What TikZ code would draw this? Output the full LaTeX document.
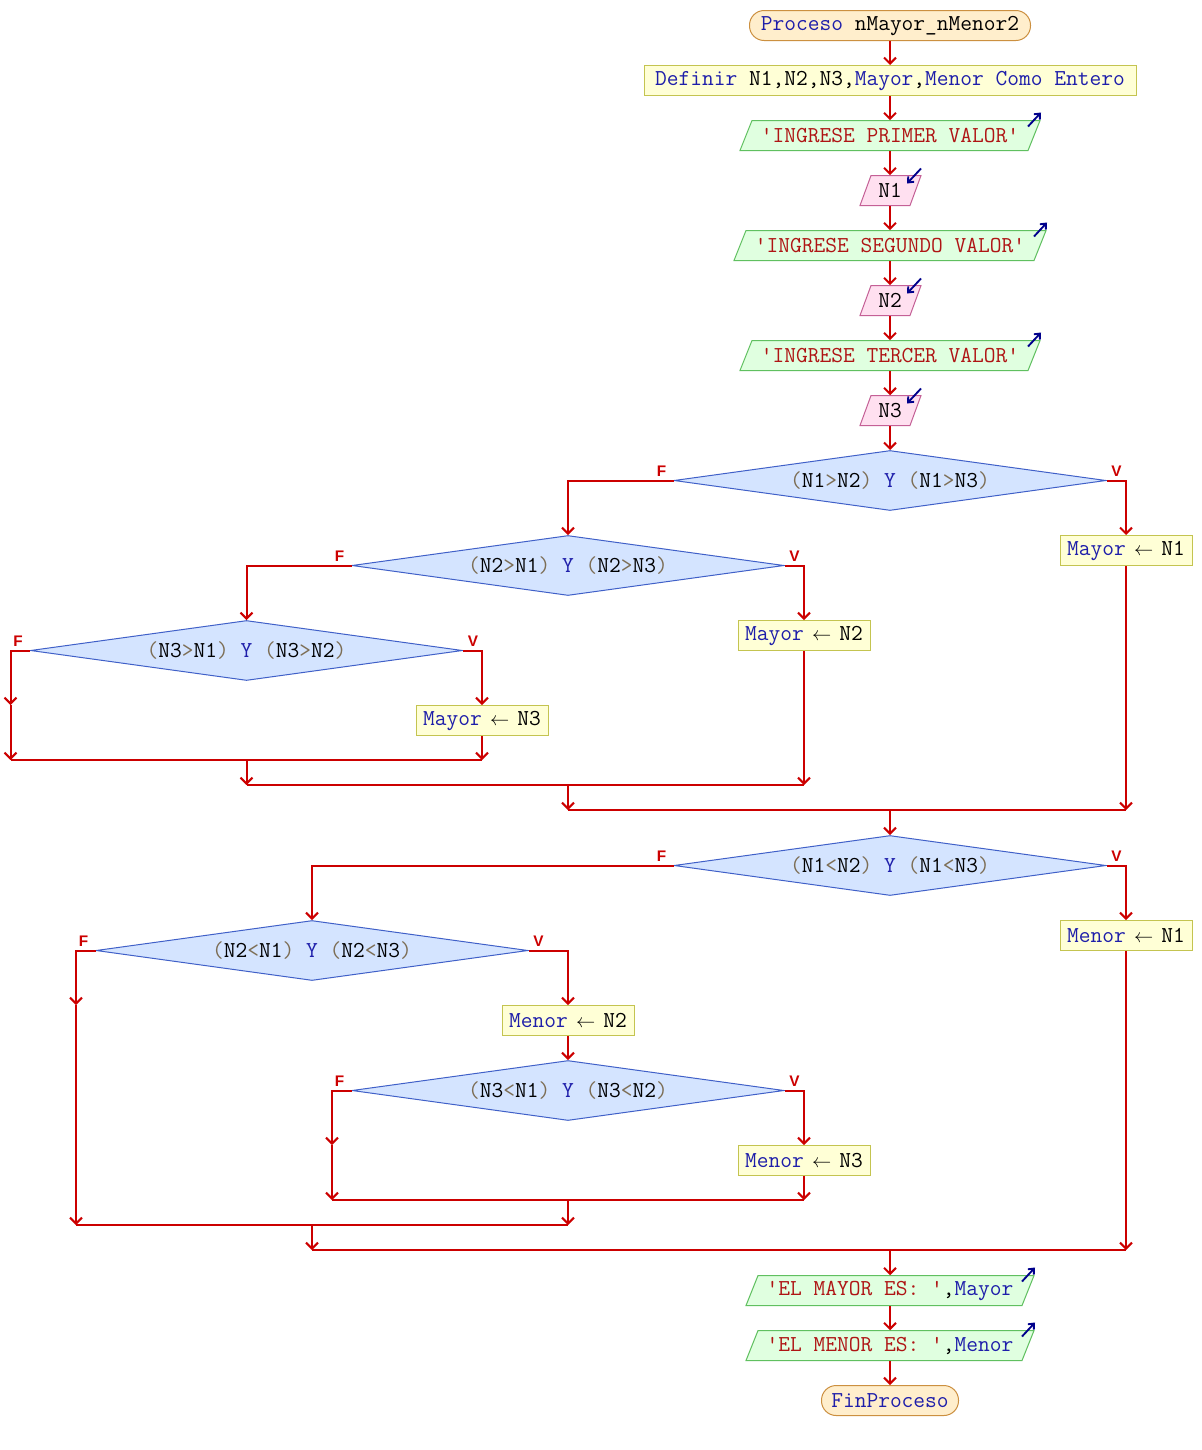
\documentclass[tikz,border=0pt]{standalone}
\usepackage{fontspec}
\setmonofont{Latin Modern Mono}
\newfontfamily\lblfont{Liberation Sans}
\usetikzlibrary{arrows.meta,shapes.geometric}
\definecolor{flowred}{RGB}{204,0,0}
\definecolor{kwc}{RGB}{30,30,170}
\definecolor{strc}{RGB}{175,20,20}
\definecolor{opc}{RGB}{125,110,85}
\definecolor{startfill}{RGB}{255,238,204}
\definecolor{startdraw}{RGB}{204,144,64}
\definecolor{procfill}{RGB}{255,255,214}
\definecolor{procdraw}{RGB}{196,196,80}
\definecolor{outfill}{RGB}{224,255,224}
\definecolor{outdraw}{RGB}{96,192,96}
\definecolor{infill}{RGB}{255,224,240}
\definecolor{indraw}{RGB}{196,96,150}
\definecolor{decfill}{RGB}{212,228,255}
\definecolor{decdraw}{RGB}{64,96,200}
\definecolor{ioarrow}{RGB}{0,0,140}
\newcommand\cK[1]{\textcolor{kwc}{#1}}
\newcommand\cS[1]{\textcolor{strc}{#1}}
\newcommand\cO[1]{\textcolor{opc}{#1}}
\newcommand\asg{\makebox[9pt]{\fontsize{14pt}{14pt}\selectfont$\leftarrow$}}
\tikzset{
  txt/.style={font=\ttfamily\fontsize{17.1pt}{20pt}\selectfont, inner sep=0pt, minimum height=22.5pt, text=black},
  startbox/.style={txt, draw=startdraw, fill=startfill, line width=0.75pt, rounded corners=11pt},
  procbox/.style={txt, draw=procdraw, fill=procfill, line width=0.75pt},
  decbox/.style={txt, diamond, aspect=7.2, minimum width=324pt, minimum height=45pt, draw=decdraw, fill=decfill, line width=0.75pt},
  outshape/.style={draw=outdraw, fill=outfill, line width=0.75pt},
  inshape/.style={draw=indraw, fill=infill, line width=0.75pt},
  ioarr/.style={draw=ioarrow, line width=1.4pt, -{Straight Barb[length=3.5pt,width=6pt]}},
  flow/.style={draw=flowred, line width=1.5pt},
  arr/.style={flow, -{Straight Barb[length=4.5pt,width=9pt]}},
  lbl/.style={font=\lblfont\bfseries\fontsize{11.5pt}{11.5pt}\selectfont, text=flowred, inner sep=0pt, anchor=south},
}
% output parallelogram: name, x, y, half side, text
\newcommand\ioout[5]{%
  \path[outshape] (#2-#4-6,#3+15) -- (#2-#4+6,#3-15) -- (#2+#4+6,#3-15) -- (#2+#4-6,#3+15) -- cycle;
  \node[txt] (#1) at (#2,#3) {#5};
  \draw[ioarr] (#2+#4-6,#3-9) -- (#2+#4+7,#3-23);
}
% input parallelogram: name, x, y, text
\newcommand\ioin[4]{%
  \path[inshape] (#2-30,#3+15) -- (#2-19,#3-15) -- (#2+31,#3-15) -- (#2+20,#3+15) -- cycle;
  \node[txt] (#1) at (#2,#3) {#4};
  \draw[ioarr] (#2+31,#3-22) -- (#2+17,#3-7);
}
\begin{document}
\begin{tikzpicture}[x=0.75pt,y=-0.75pt]
\useasboundingbox (0,0) rectangle (1202,1450);
\fill[white] (0,0) rectangle (1202,1450);

% ---------- top sequence ----------
\node[startbox, minimum width=210.75pt] (start) at (890,25.5) {\cK{Proceso} nMayor\_nMenor2};
\node[procbox, minimum width=369pt] (def) at (890,80.5) {\cK{Definir} N1,N2,N3,\cK{Mayor},\cK{Menor} \cK{Como} \cK{Entero}};
\ioout{o1}{890}{135.5}{144}{\cS{'INGRESE PRIMER VALOR'}}
\ioin{i1}{890}{190.5}{N1}
\ioout{o2}{890}{245.5}{150}{\cS{'INGRESE SEGUNDO VALOR'}}
\ioin{i2}{890}{300.5}{N2}
\ioout{o3}{890}{355.5}{144}{\cS{'INGRESE TERCER VALOR'}}
\ioin{i3}{890}{410.5}{N3}

% ---------- first decision block ----------
\node[decbox] (d1) at (890,480.5) {\cO{(}N1\cO{>}N2\cO{)} \cK{Y} \cO{(}N1\cO{>}N3\cO{)}};
\node[procbox, minimum width=99pt] (m1) at (1126,550.5) {\cK{Mayor} \asg{} N1};
\node[decbox] (d2) at (568,565.5) {\cO{(}N2\cO{>}N1\cO{)} \cK{Y} \cO{(}N2\cO{>}N3\cO{)}};
\node[procbox, minimum width=99pt] (m2) at (804,635.5) {\cK{Mayor} \asg{} N2};
\node[decbox] (d3) at (246.5,650.5) {\cO{(}N3\cO{>}N1\cO{)} \cK{Y} \cO{(}N3\cO{>}N2\cO{)}};
\node[procbox, minimum width=99pt] (m3) at (482,720.5) {\cK{Mayor} \asg{} N3};

\node[lbl] (lf1) at ([xshift=-9pt,yshift=3pt]d1.west) {F};
\node[lbl] (lv1) at ([xshift=7.5pt,yshift=3pt]d1.east) {V};
\node[lbl] (lf2) at ([xshift=-9pt,yshift=3pt]d2.west) {F};
\node[lbl] (lv2) at ([xshift=7.5pt,yshift=3pt]d2.east) {V};
\node[lbl] (lf3) at ([xshift=-9pt,yshift=3pt]d3.west) {F};
\node[lbl] (lv3) at ([xshift=7.5pt,yshift=3pt]d3.east) {V};

\coordinate (f3) at (10.5,705);
\coordinate (j3l) at (10.5,760);
\coordinate (j3c) at (246.5,760);
\coordinate (j3r) at (482,760);
\coordinate (j2l) at (246.5,785);
\coordinate (j2c) at (568,785);
\coordinate (j2r) at (804,785);
\coordinate (j1l) at (568,810);
\coordinate (j1c) at (890,810);
\coordinate (j1r) at (1126,810);

% ---------- second decision block ----------
\node[decbox] (d4) at (890,865.5) {\cO{(}N1\cO{<}N2\cO{)} \cK{Y} \cO{(}N1\cO{<}N3\cO{)}};
\node[procbox, minimum width=99pt] (n1) at (1126,935.5) {\cK{Menor} \asg{} N1};
\node[decbox] (d5) at (312,950.5) {\cO{(}N2\cO{<}N1\cO{)} \cK{Y} \cO{(}N2\cO{<}N3\cO{)}};
\node[procbox, minimum width=99pt] (n2) at (568,1020.5) {\cK{Menor} \asg{} N2};
\node[decbox] (d6) at (568,1090.5) {\cO{(}N3\cO{<}N1\cO{)} \cK{Y} \cO{(}N3\cO{<}N2\cO{)}};
\node[procbox, minimum width=99pt] (n3) at (804,1160.5) {\cK{Menor} \asg{} N3};

\node[lbl] (lf4) at ([xshift=-9pt,yshift=3pt]d4.west) {F};
\node[lbl] (lv4) at ([xshift=7.5pt,yshift=3pt]d4.east) {V};
\node[lbl] (lf5) at ([xshift=-9pt,yshift=3pt]d5.west) {F};
\node[lbl] (lv5) at ([xshift=7.5pt,yshift=3pt]d5.east) {V};
\node[lbl] (lf6) at ([xshift=-9pt,yshift=3pt]d6.west) {F};
\node[lbl] (lv6) at ([xshift=7.5pt,yshift=3pt]d6.east) {V};

\coordinate (f5) at (76,1005);
\coordinate (f6) at (332,1145);
\coordinate (k6l) at (332,1200);
\coordinate (k6c) at (568,1200);
\coordinate (k6r) at (804,1200);
\coordinate (k5l) at (76,1225);
\coordinate (k5c) at (312,1225);
\coordinate (k5r) at (568,1225);
\coordinate (k4l) at (312,1250);
\coordinate (k4c) at (890,1250);
\coordinate (k4r) at (1126,1250);

% ---------- final sequence ----------
\ioout{o4}{890}{1290.5}{138}{\cS{'EL MAYOR ES: '},\cK{Mayor}}
\ioout{o5}{890}{1345.5}{138}{\cS{'EL MENOR ES: '},\cK{Menor}}
\node[startbox, minimum width=102.75pt] (fin) at (890,1400.5) {\cK{FinProceso}};

% ---------- connectors ----------
\draw[arr] (start.south) -- (def.north);
\draw[arr] (def.south) -- (o1.north);
\draw[arr] (o1.south) -- (i1.north);
\draw[arr] (i1.south) -- (o2.north);
\draw[arr] (o2.south) -- (i2.north);
\draw[arr] (i2.south) -- (o3.north);
\draw[arr] (o3.south) -- (i3.north);
\draw[arr] (i3.south) -- (d1.north);

\draw[arr] (d1.west) -| (d2.north);
\draw[arr] (d1.east) -| (m1.north);
\draw[arr] (d2.west) -| (d3.north);
\draw[arr] (d2.east) -| (m2.north);
\draw[arr] (d3.west) -| (f3);
\draw[arr] (f3) -- (j3l);
\draw[arr] (d3.east) -| (m3.north);
\draw[arr] (m3.south) -- (j3r);
\draw[flow] (j3l) -- (j3r);
\draw[arr] (j3c) -- (j2l);
\draw[arr] (m2.south) -- (j2r);
\draw[flow] (j2l) -- (j2r);
\draw[arr] (j2c) -- (j1l);
\draw[arr] (m1.south) -- (j1r);
\draw[flow] (j1l) -- (j1r);
\draw[arr] (j1c) -- (d4.north);

\draw[arr] (d4.west) -| (d5.north);
\draw[arr] (d4.east) -| (n1.north);
\draw[arr] (d5.west) -| (f5);
\draw[arr] (f5) -- (k5l);
\draw[arr] (d5.east) -| (n2.north);
\draw[arr] (n2.south) -- (d6.north);
\draw[arr] (d6.west) -| (f6);
\draw[arr] (f6) -- (k6l);
\draw[arr] (d6.east) -| (n3.north);
\draw[arr] (n3.south) -- (k6r);
\draw[flow] (k6l) -- (k6r);
\draw[arr] (k6c) -- (k5r);
\draw[flow] (k5l) -- (k5r);
\draw[arr] (k5c) -- (k4l);
\draw[arr] (n1.south) -- (k4r);
\draw[flow] (k4l) -- (k4r);
\draw[arr] (k4c) -- (o4.north);
\draw[arr] (o4.south) -- (o5.north);
\draw[arr] (o5.south) -- (fin.north);
\end{tikzpicture}
\end{document}
